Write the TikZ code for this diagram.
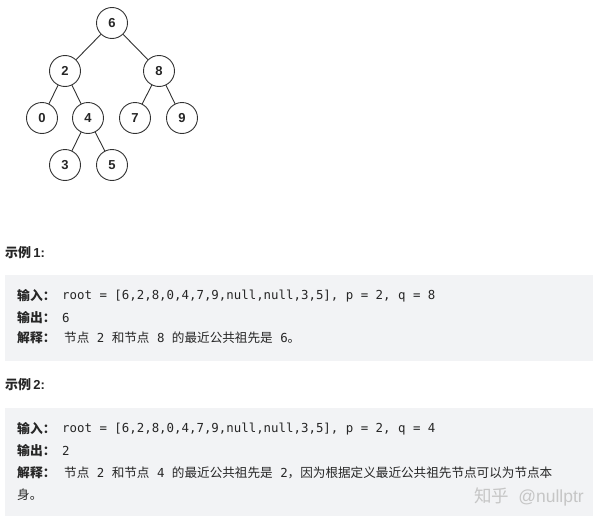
\documentclass[tikz,border=0pt]{standalone}
\usepackage{fontspec}
\setmainfont{Liberation Sans}
\newfontfamily\cjk{Noto Sans CJK SC}
\newfontfamily\mono{DejaVu Sans Mono}
\newcommand\cf{\mono\fontsize{12.4}{13}\selectfont}
\definecolor{boxbg}{RGB}{242,243,245}
\definecolor{txt}{RGB}{38,38,38}
\definecolor{treeline}{RGB}{50,50,50}
\definecolor{wm}{RGB}{198,198,198}
\begin{document}
\begin{tikzpicture}[x=1pt,y=-1pt,
  tn/.style={circle,draw=treeline,line width=0.9pt,minimum size=31pt,inner sep=0pt,
             text=txt,font=\fontsize{13}{13}\selectfont\bfseries},
  edge/.style={draw=treeline,line width=0.9pt},
  txtline/.style={anchor=west,inner sep=0pt,text=txt,font=\fontsize{12.6}{13}\selectfont},
  lbl/.style={anchor=west,inner sep=0pt,text=txt,font=\cjk\fontsize{12.8}{13}\selectfont\bfseries},
  hdr/.style={anchor=west,inner sep=0pt,text=txt,font=\fontsize{13}{13}\selectfont\bfseries},
  bgbox/.style={fill=boxbg,draw=none},
]
\useasboundingbox[fill=white] (0,0) rectangle (600,522);

% tree
\node[tn] (n6) at (112,23) {6};
\node[tn] (n2) at (65,71) {2};
\node[tn] (n8) at (159,71) {8};
\node[tn] (n0) at (42,118) {0};
\node[tn] (n4) at (88,118) {4};
\node[tn] (n7) at (135,118) {7};
\node[tn] (n9) at (182,118) {9};
\node[tn] (n3) at (65,165) {3};
\node[tn] (n5) at (112,165) {5};
\draw[edge] (n6) -- (n2);
\draw[edge] (n6) -- (n8);
\draw[edge] (n2) -- (n0);
\draw[edge] (n2) -- (n4);
\draw[edge] (n8) -- (n7);
\draw[edge] (n8) -- (n9);
\draw[edge] (n4) -- (n3);
\draw[edge] (n4) -- (n5);

% example 1
\node[hdr] (h1) at (5,253) {{\cjk\bfseries 示例}\,1:};
\path[bgbox] (5,275) rectangle (593,361);
\node[lbl] (la1) at (17,296) {输入：};
\node[txtline] (a1) at (62,296) {\cf root = [6,2,8,0,4,7,9,null,null,3,5], p = 2, q = 8};
\node[lbl] (lb1) at (17,318) {输出：};
\node[txtline] (b1) at (62,318) {\cf 6};
\node[lbl] (lc1) at (17,338) {解释：};
\node[txtline] (c1) at (64,338) {{\cjk 节点}{\cf\ 2\ }{\cjk 和节点}{\cf\ 8\ }{\cjk 的最近公共祖先是}{\cf\ 6}{\cjk 。}};

% example 2
\node[hdr] (h2) at (5,385) {{\cjk\bfseries 示例}\,2:};
\path[bgbox] (5,408) rectangle (593,516);
\node[lbl] (la2) at (17,429) {输入：};
\node[txtline] (a2) at (62,429) {\cf root = [6,2,8,0,4,7,9,null,null,3,5], p = 2, q = 4};
\node[lbl] (lb2) at (17,451) {输出：};
\node[txtline] (b2) at (62,451) {\cf 2};
\node[lbl] (lc2) at (17,473) {解释：};
\node[txtline] (c2) at (64,473) {{\cjk 节点}{\cf\ 2\ }{\cjk 和节点}{\cf\ 4\ }{\cjk 的最近公共祖先是}{\cf\ 2}{\cjk ，因为根据定义最近公共祖先节点可以为节点本}};
\node[txtline] (d2) at (17,495) {{\cjk 身。}};

% watermark
\node[anchor=east,inner sep=0pt,text=wm,font=\fontsize{17.5}{17.5}\selectfont] (wmk) at (584,497) {{\cjk 知乎}\hspace{9pt}@nullptr};
\end{tikzpicture}
\end{document}
